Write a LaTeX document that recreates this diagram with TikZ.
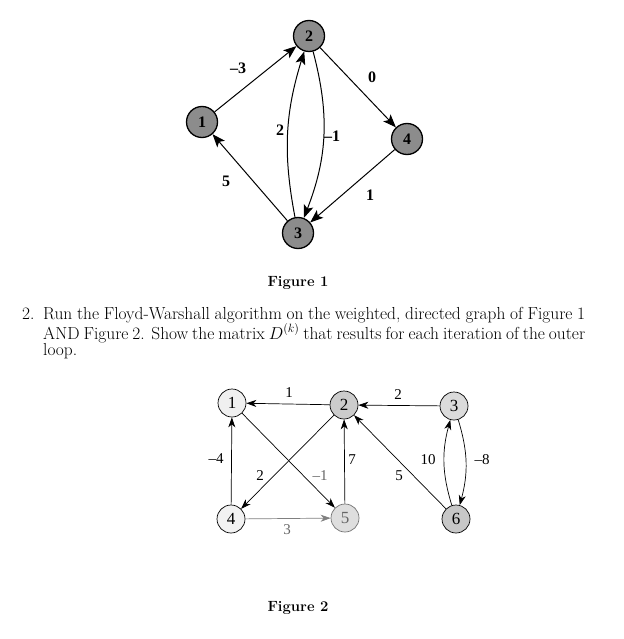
\documentclass[tikz,border=0pt]{standalone}
\usepackage{fontspec}
\newfontfamily\timesf{Liberation Serif}
\usetikzlibrary{arrows.meta}
\begin{document}
\begin{tikzpicture}[x=1pt,y=-1pt,
  fnode/.style={circle,draw,line width=1.3pt,fill=black!45,minimum size=31pt,inner sep=0pt,font=\timesf\fontsize{16}{16}\selectfont\bfseries},
  flab/.style={inner sep=0pt,font=\timesf\fontsize{16}{16}\selectfont\bfseries},
  farr/.style={line width=1pt,-{Stealth[length=13pt,width=10pt,inset=3pt]}},
  gnode/.style={circle,draw,line width=0.7pt,minimum size=28pt,inner sep=0pt,font=\timesf\fontsize{17}{17}\selectfont},
  glab/.style={inner sep=0pt,font=\timesf\fontsize{15}{15}\selectfont},
  garr/.style={line width=0.7pt,-{Stealth[length=10pt,width=7pt,inset=3pt]}},
  capt/.style={inner sep=0pt,font=\fontsize{14.8}{17}\selectfont\bfseries}
]
\useasboundingbox (0,0) rectangle (623,639);
% Figure 1
\node[fnode] (a1) at (202,122) {1};
\node[fnode] (a2) at (309,36) {2};
\node[fnode] (a3) at (298,233) {3};
\node[fnode] (a4) at (407,139) {4};
\draw[farr] (a1) -- (a2);
\draw[farr] (a2) -- (a4);
\draw[farr] (a4) -- (a3);
\draw[farr] (a3) -- (a1);
\draw[farr] (a3) to[bend left=14] (a2);
\draw[farr] (a2) to[bend left=18] (a3);
\node[flab] (l13) at (238,68) {–3};
\node[flab] (l24) at (372,77) {0};
\node[flab] (l32) at (280,130) {2};
\node[flab] (l23) at (332,136) {–1};
\node[flab] (l43) at (370,195) {1};
\node[flab] (l31) at (226,181) {5};
\node[capt] (c1) at (298,283) {Figure 1};
% Text
\node[inner sep=0pt,anchor=base west] (num) at (22,319) {\fontsize{17.4}{19}\selectfont 2.};
\node[inner sep=0pt,anchor=north west,text width=542pt,align=justify] (para) at (43,307.0) {\fontsize{17.4}{19}\selectfont Run the Floyd-Warshall algorithm on the weighted, directed graph of Figure 1\linebreak AND Figure 2. Show the matrix $D^{(k)}$ that results for each iteration of the outer\linebreak loop.};
% Figure 2
\node[gnode,fill=black!6] (b1) at (232,403) {1};
\node[gnode,fill=black!20] (b2) at (344,405) {2};
\node[gnode,fill=black!14] (b3) at (454,406) {3};
\node[gnode,fill=black!5] (b4) at (231,519) {4};
\node[gnode,fill=black!13,draw=black!55,text=black!60] (b5) at (345,518) {5};
\node[gnode,fill=black!22] (b6) at (456,519) {6};
\draw[garr] (b2) -- (b1);
\draw[garr] (b3) -- (b2);
\draw[garr] (b4) -- (b1);
\draw[garr] (b2) -- (b4);
\draw[garr] (b1) -- (b5);
\draw[garr] (b5) -- (b2);
\draw[garr] (b6) -- (b2);
\draw[garr,draw=black!50] (b4) -- (b5);
\draw[garr] (b6) to[bend left=16] (b3);
\draw[garr] (b3) to[bend left=16] (b6);
\node[glab] (k21) at (289,393) {1};
\node[glab] (k32) at (398,395) {2};
\node[glab] (k41) at (216,459) {–4};
\node[glab] (k24) at (260,476) {2};
\node[glab,text=black!60] (k15) at (320,476) {–1};
\node[glab] (k52) at (352,460) {7};
\node[glab] (k62) at (399,476) {5};
\node[glab] (k63) at (428,460) {10};
\node[glab] (k36) at (482,460) {–8};
\node[glab,text=black!60] (k45) at (287,530) {3};
\node[capt] (c2) at (298,608) {Figure 2};
\end{tikzpicture}
\end{document}
